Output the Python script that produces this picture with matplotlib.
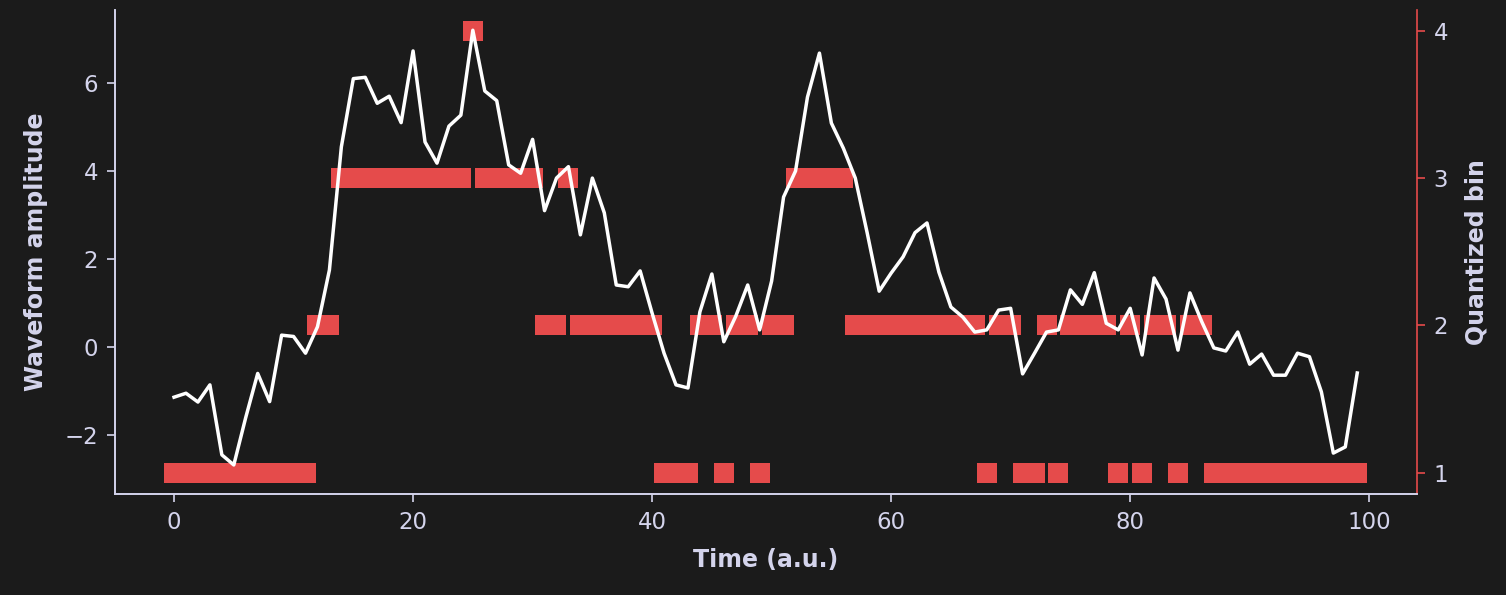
import numpy as np
from matplotlib import pyplot as plt

time = np.arange(100)
wave = [-1.14, -1.05, -1.25, -0.86, -2.45, -2.68, -1.6, -0.6, -1.24, 0.27,
        0.24, -0.14, 0.46, 1.75, 4.55, 6.1, 6.13, 5.54, 5.7, 5.1,
        6.73, 4.66, 4.18, 5.02, 5.27, 7.2, 5.82, 5.6, 4.14, 3.95,
        4.72, 3.1, 3.84, 4.1, 2.55, 3.84, 3.05, 1.41, 1.37, 1.73,
        0.77, -0.14, -0.86, -0.93, 0.8, 1.66, 0.12, 0.7, 1.41, 0.39,
        1.5, 3.41, 4.0, 5.68, 6.68, 5.09, 4.52, 3.84, 2.59, 1.27,
        1.68, 2.05, 2.6, 2.82, 1.7, 0.91, 0.68, 0.34, 0.39, 0.84,
        0.88, -0.61, -0.14, 0.34, 0.39, 1.3, 0.97, 1.69, 0.54, 0.39,
        0.88, -0.18, 1.57, 1.09, -0.07, 1.23, 0.57, -0.02, -0.09, 0.34,
        -0.39, -0.16, -0.64, -0.64, -0.14, -0.22, -1.02, -2.41, -2.27, -0.59]
bins = ([1] * 12 + [2] * 2 + [3] * 17 + [2] * 2 + [3] + [2] * 7 + [1] * 3
        + [2] * 2 + [1] + [2] * 2 + [1] + [2] * 2 + [3] * 5 + [2] * 11
        + [1] + [2] * 2 + [1] * 2 + [2] + [1] + [2] * 4 + [1] + [2] + [1]
        + [2] * 2 + [1] + [2] * 2 + [1] * 13)
bins[25] = 4

bg = '#1b1b1b'
fg = '#d4d4ec'
red = '#e54b4b'

fig, ax = plt.subplots(figsize=(15.06, 5.95), dpi=100)
fig.patch.set_facecolor(bg)
ax.set_facecolor(bg)
fig.subplots_adjust(left=115/1506, right=1417/1506, top=1-10/595, bottom=1-494/595)

ax2 = ax.twinx()
ax2.plot(time, bins, 's', color=red, markersize=14.4, markeredgewidth=0, zorder=2)
ax2.set_ylim(0.857, 4.14)
ax2.set_yticks([1, 2, 3, 4])

ax.plot(time, wave, color='white', lw=2.5)
ax.set_zorder(ax2.get_zorder() + 1)
ax.patch.set_visible(False)
ax.set_xlim(-4.94, 104.0)
ax.set_ylim(-3.34, 7.66)
ax.set_yticks([-2, 0, 2, 4, 6])

ax.set_xlabel('Time (a.u.)', color=fg, fontsize=17, fontweight='bold', labelpad=10)
ax.set_ylabel('Waveform amplitude', color=fg, fontsize=17, fontweight='bold', labelpad=12)
ax2.set_ylabel('Quantized bin', color=fg, fontsize=17, fontweight='bold', labelpad=12)

for a in (ax, ax2):
    a.spines['top'].set_visible(False)
    a.tick_params(colors=fg, labelsize=16.5, length=6, width=1.2, pad=6)
    for s in ('left', 'bottom'):
        a.spines[s].set_color(fg)
        a.spines[s].set_linewidth(1.2)
    a.spines['right'].set_color(red)
    a.spines['right'].set_linewidth(1.2)
ax.spines['right'].set_visible(False)
ax2.tick_params(axis='y', colors=red, labelcolor=fg)

plt.savefig('out.png', facecolor=bg)
